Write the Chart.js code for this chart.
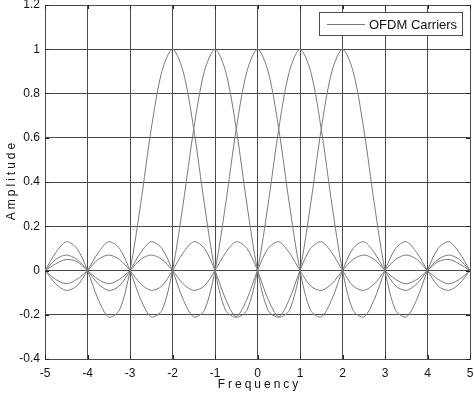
<!DOCTYPE html>
<html>
<head>
<meta charset="utf-8">
<script src="https://cdn.jsdelivr.net/npm/chart.js@4/dist/chart.umd.min.js"></script>
<style>
  html, body { margin: 0; padding: 0; background: #fff; }
  #wrap { width: 474px; height: 396px; }
</style>
</head>
<body>
<div id="wrap"><canvas id="myChart" width="474" height="396"></canvas></div>
<script>
// carriers and the shape of one carrier (one side, step 0.25)
const carrierCenters = [-2, -1, 0, 1, 2];
const shapeOffsets = [0, 0.25, 0.5, 0.75, 1, 1.25, 1.5, 1.75, 2, 2.25, 2.5, 2.75, 3, 3.25, 3.5, 3.75,
  4, 4.25, 4.5, 4.75, 5, 5.25, 5.5, 5.75, 6, 6.25, 6.5, 6.75, 7];
const carrierShape = [1, 0.90, 0.64, 0.30, 0, -0.18, -0.21, -0.13, 0, 0.10, 0.13, 0.08, 0, -0.07, -0.09, -0.06,
  0, 0.05, 0.07, 0.05, 0, -0.04, -0.06, -0.04, 0, 0.04, 0.05, 0.03, 0];
const xTicks = [-5, -4, -3, -2, -1, 0, 1, 2, 3, 4, 5];
const yTicks = [-0.4, -0.2, 0, 0.2, 0.4, 0.6, 0.8, 1, 1.2];
const legendLabel = "OFDM Carriers";
const xTitle = "Frequency";
const yTitle = "Amplitude";

function carrierPoints(center) {
  const pts = [];
  for (let i = shapeOffsets.length - 1; i > 0; i--) {
    pts.push({ x: center - shapeOffsets[i], y: carrierShape[i] });
  }
  for (let i = 0; i < shapeOffsets.length; i++) {
    pts.push({ x: center + shapeOffsets[i], y: carrierShape[i] });
  }
  return pts;
}

const FONT = "'Liberation Sans', Arial, sans-serif";
const GRID = "#4a4a4a";

// matlab style inner tick marks, legend box and spaced axis titles
const matlabDecor = {
  id: "matlabDecor",
  afterDraw(chart) {
    const { ctx, chartArea: a, scales } = chart;
    ctx.save();
    ctx.strokeStyle = "#222";
    ctx.lineWidth = 1;
    ctx.beginPath();
    xTicks.forEach(v => {
      const px = Math.round(scales.x.getPixelForValue(v)) + 0.5;
      ctx.moveTo(px, a.bottom); ctx.lineTo(px, a.bottom - 4);
      ctx.moveTo(px, a.top); ctx.lineTo(px, a.top + 4);
    });
    yTicks.forEach(v => {
      const py = Math.round(scales.y.getPixelForValue(v)) + 0.5;
      ctx.moveTo(a.left, py); ctx.lineTo(a.left + 4, py);
      ctx.moveTo(a.right, py); ctx.lineTo(a.right - 4, py);
    });
    ctx.stroke();

    // legend
    ctx.fillStyle = "#fff";
    ctx.fillRect(319, 12, 143, 23);
    ctx.strokeStyle = GRID;
    ctx.strokeRect(319.5, 12.5, 143, 23);
    ctx.strokeStyle = "#777";
    ctx.beginPath();
    ctx.moveTo(327, 24.5); ctx.lineTo(365, 24.5);
    ctx.stroke();
    ctx.fillStyle = "#111";
    ctx.font = "13px " + FONT;
    ctx.textBaseline = "middle";
    ctx.textAlign = "left";
    ctx.fillText(legendLabel, 369, 25);

    // axis titles
    ctx.font = "12px " + FONT;
    ctx.letterSpacing = "3px";
    ctx.textAlign = "center";
    ctx.fillText(xTitle, (a.left + a.right) / 2 + 2, 385);
    ctx.translate(12, (a.top + a.bottom) / 2);
    ctx.rotate(-Math.PI / 2);
    ctx.fillText(yTitle, 2, 0);
    ctx.restore();
  }
};

const ctx = document.getElementById("myChart");

new Chart(ctx, {
  type: "line",
  data: {
    datasets: carrierCenters.map(c => ({
      label: legendLabel,
      data: carrierPoints(c),
      borderColor: "#7a7a7a",
      borderWidth: 1,
      pointRadius: 0,
      tension: 0.3,
      fill: false
    }))
  },
  options: {
    responsive: false,
    animation: false,
    layout: { padding: { top: 5, right: 4, left: 0, bottom: 0 } },
    plugins: { legend: { display: false }, tooltip: { enabled: false } },
    scales: {
      x: {
        type: "linear",
        min: -5, max: 5,
        afterBuildTicks: s => { s.ticks = xTicks.map(v => ({ value: v })); },
        afterFit: s => { s.height = 37; s.paddingLeft = 0; s.paddingRight = 0; },
        grid: { color: GRID, drawTicks: false },
        border: { color: GRID },
        ticks: { color: "#111", padding: 7, font: { family: FONT, size: 12 }, maxRotation: 0 }
      },
      y: {
        min: -0.4, max: 1.2,
        afterBuildTicks: s => { s.ticks = yTicks.map(v => ({ value: v })); },
        afterFit: s => { s.width = 45; s.paddingTop = 0; s.paddingBottom = 0; },
        grid: { color: GRID, drawTicks: false },
        border: { color: GRID },
        ticks: {
          color: "#111", padding: 5, font: { family: FONT, size: 12 },
          callback: v => String(Number(v.toFixed(1)))
        }
      }
    }
  },
  plugins: [matlabDecor]
});
</script>
</body>
</html>
